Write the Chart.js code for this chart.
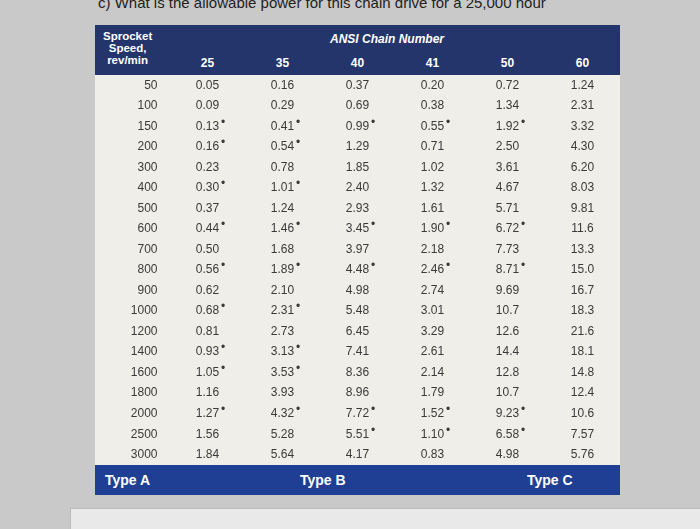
<!DOCTYPE html>
<html><head><meta charset="utf-8">
<script src="https://cdn.jsdelivr.net/npm/chart.js@4"></script>
<style>
body{margin:0;width:700px;height:529px;background:#c9c9c9;position:relative;overflow:hidden;font-family:"Liberation Sans",Arial,sans-serif}
#q{position:absolute;left:98px;top:-6px;font-size:15px;color:#222}
#head{position:absolute;left:95px;top:25px;width:525px;height:50px;background:#24356b;color:#fff}
#foot{position:absolute;left:95px;top:465px;width:525px;height:30px;background:#1e3f93;color:#fff;font-weight:bold;font-size:14px}
#wrap{position:absolute;left:95px;top:75px;width:525px;height:390px;background:#efeee9}
.h{position:absolute;font-weight:bold;font-size:12px;transform:translateX(-50%)}
#bot{position:absolute;left:70px;top:508px;width:640px;height:40px;background:#e9e9e9;border:1px solid #bbb}
</style></head><body>
<div id="q">c) What is the allowable power for this chain drive for a 25,000 hour</div>
<div id="head">
 <div style="position:absolute;left:8px;top:5px;font-weight:bold;font-size:11.5px;line-height:12px;text-align:center">Sprocket<br>Speed,<br>rev/min</div>
 <div style="position:absolute;left:235px;top:7px;font-weight:bold;font-style:italic;font-size:12px">ANSI Chain Number</div>
 <div id="hn"></div>
</div>
<div id="wrap"><canvas id="c"></canvas></div>
<div id="foot"><span style="position:absolute;left:10px;top:7px">Type A</span><span style="position:absolute;left:205px;top:7px">Type B</span><span style="position:absolute;left:432px;top:7px">Type C</span></div>
<div id="bot"></div>
<script>
const chains=["25","35","40","41","50","60"];
const speeds=["50","100","150","200","300","400","500","600","700","800","900","1000","1200","1400","1600","1800","2000","2500","3000"];
const c25=["0.05","0.09","0.13*","0.16*","0.23","0.30*","0.37","0.44*","0.50","0.56*","0.62","0.68*","0.81","0.93*","1.05*","1.16","1.27*","1.56","1.84"];
const c35=["0.16","0.29","0.41*","0.54*","0.78","1.01*","1.24","1.46*","1.68","1.89*","2.10","2.31*","2.73","3.13*","3.53*","3.93","4.32*","5.28","5.64"];
const c40=["0.37","0.69","0.99*","1.29","1.85","2.40","2.93","3.45*","3.97","4.48*","4.98","5.48","6.45","7.41","8.36","8.96","7.72*","5.51*","4.17"];
const c41=["0.20","0.38","0.55*","0.71","1.02","1.32","1.61","1.90*","2.18","2.46*","2.74","3.01","3.29","2.61","2.14","1.79","1.52*","1.10*","0.83"];
const c50=["0.72","1.34","1.92*","2.50","3.61","4.67","5.71","6.72*","7.73","8.71*","9.69","10.7","12.6","14.4","12.8","10.7","9.23*","6.58*","4.98"];
const c60=["1.24","2.31","3.32","4.30","6.20","8.03","9.81","11.6","13.3","15.0","16.7","18.3","21.6","18.1","14.8","12.4","10.6","7.57","5.76"];
const cols=[speeds,c25,c35,c40,c41,c50,c60];
const hn=document.getElementById('hn');
chains.forEach((t,i)=>{const d=document.createElement('div');d.className='h';d.textContent=t;d.style.left=(37.5+75*(i+1))+'px';d.style.top='31px';hn.appendChild(d);});
const datasets=cols.map((col,ci)=>({data:col.map((v,ri)=>({x:ci,y:ri,t:v})),pointRadius:0}));
const txt={id:'txt',afterDatasetsDraw(ch){const ctx=ch.ctx;ctx.save();ctx.fillStyle='#3a3a3a';ctx.font='12px "Liberation Sans",Arial';ctx.textBaseline='middle';
 ch.data.datasets.forEach((ds,ci)=>{const m=ch.getDatasetMeta(ci);m.data.forEach((p,ri)=>{const t=ds.data[ri].t;
  if(ci===0){ctx.textAlign='right';ctx.fillText(t,p.x+25,p.y);}else{ctx.textAlign='center';const s=t.replace('*','');ctx.fillText(s,p.x,p.y);if(t.includes('*')){const w=ctx.measureText(s).width;ctx.fillText('•',p.x+w/2+4,p.y-4);}}});});ctx.restore();}};
new Chart(document.getElementById('c'),{type:'scatter',data:{datasets},plugins:[txt],
options:{responsive:true,maintainAspectRatio:false,animation:false,events:[],layout:{padding:0},
plugins:{legend:{display:false},tooltip:{enabled:false}},
scales:{x:{type:'linear',min:-0.5,max:6.5,display:false},y:{type:'linear',min:-0.5,max:18.5,reverse:true,display:false}}}});
</script></body></html>
